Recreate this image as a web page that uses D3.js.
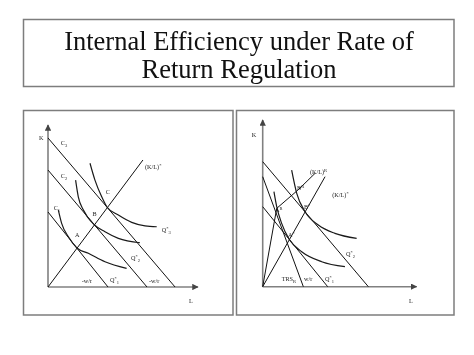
<!DOCTYPE html>
<meta charset="utf-8">
<style>
body { margin: 0; background: #fff; }
svg { display: block; font-family: "Liberation Serif", "DejaVu Serif", serif; will-change: transform; }
.frame { fill: none; stroke: #7d7d7d; stroke-width: 1.5px; }
.axis { stroke: #808080; stroke-width: 1.6px; }
.line { fill: none; stroke: #111; stroke-width: 1px; }
.iso { fill: none; stroke: #1a1a1a; stroke-width: 1.2px; }
.lbl { font-size: 6.2px; fill: #222; }
.title { font-size: 26.5px; fill: #111; }
</style>
<body><svg></svg></body>
<script src="https://d3js.org/d3.v7.min.js"></script>
<script>

var width = 474,
    height = 355;

var svg = d3.select("svg")
    .attr("width", width)
    .attr("height", height);

var titleLines = ["Internal Efficiency under Rate of", "Return Regulation"];

// left panel: cost lines (K intercept, L intercept), ray, isoquants
var leftCost = [
  { k: 9.2, l: 8.47 },
  { k: 7.22, l: 6.6 },
  { k: 4.63, l: 4.0 }
];
var leftRays = [
  [[0, 0], [6.33, 7.84]]
];
var leftIsoQ3 = [[2.8, 7.64], [3.13, 6.6], [3.58, 5.57], [3.93, 4.94], [4.69, 4.44], [5.58, 3.99], [6.47, 3.77], [7.25, 3.72]];
var leftIsoQ2 = [[1.84, 6.6], [2.02, 5.57], [2.36, 4.75], [3.1, 3.83], [3.8, 3.41], [4.69, 3.0], [6.13, 2.73]];
var leftIsoQ1 = [[0.69, 4.75], [0.91, 3.93], [1.36, 3.1], [1.93, 2.41], [2.69, 2.08], [3.8, 1.56], [5.24, 1.15]];
var leftLabels = [
  { t: "K", at: [-0.6, 9.18] },
  { t: "L", at: [9.4, -0.85] },
  { t: "C", sub: "3", at: [0.85, 8.87] },
  { t: "C", sub: "2", at: [0.85, 6.85] },
  { t: "C", sub: "1", at: [0.38, 4.86] },
  { t: "C", at: [3.85, 5.88] },
  { t: "B", at: [2.96, 4.5] },
  { t: "A", at: [1.8, 3.25] },
  { t: "(K/L)", sup: "*", at: [6.47, 7.43] },
  { t: "Q", sup: "*", sub: "3", at: [7.58, 3.52] },
  { t: "Q", sup: "*", sub: "2", at: [5.53, 1.82] },
  { t: "Q", sup: "*", sub: "1", at: [4.13, 0.43] },
  { t: "-w/r", at: [2.25, 0.37] },
  { t: "-w/r", at: [6.73, 0.37] }
];

// right panel
var rightCost = [
  { k: 7.5, l: 6.86 },
  { k: 6.6, l: 2.64 },
  { k: 4.8, l: 4.22 }
];
var rightRays = [
  [[0, 0], [4.05, 6.6]],
  [[0, 0], [0.91, 4.7], [2.29, 5.8], [3.4, 6.8]]
];
var rightIsoQ2 = [[1.88, 7.0], [2.21, 5.6], [2.75, 4.5], [3.61, 3.7], [4.69, 3.2], [6.1, 2.9]];
var rightIsoQ1 = [[0.73, 5.7], [0.91, 4.8], [1.23, 3.8], [1.73, 2.83], [2.53, 2.1], [3.83, 1.5], [5.34, 1.2]];
var rightLabels = [
  { t: "K", at: [-0.71, 9.1] },
  { t: "L", at: [9.5, -0.84] },
  { t: "(K/L)", sup: "R", at: [3.07, 6.9] },
  { t: "(K/L)", sup: "*", at: [4.52, 5.5] },
  { t: "B", sup: "R", at: [2.23, 5.96] },
  { t: "B", sup: "*", at: [2.68, 4.8] },
  { t: "A", sup: "R", at: [0.8, 4.64] },
  { t: "A", sup: "*", at: [1.64, 3.1] },
  { t: "Q", sup: "*", sub: "2", at: [5.41, 2.0] },
  { t: "Q", sup: "*", sub: "1", at: [4.05, 0.5] },
  { t: "TRS", sub: "R", at: [1.23, 0.5] },
  { t: "w/r", at: [2.68, 0.5] }
];

// arrow head for axes
svg.append("defs").append("marker")
    .attr("id", "arrow")
    .attr("viewBox", "0 0 10 10")
    .attr("refX", 9)
    .attr("refY", 5)
    .attr("markerWidth", 4)
    .attr("markerHeight", 4)
    .attr("orient", "auto")
  .append("path")
    .attr("d", "M0,0L10,5L0,10Z")
    .attr("fill", "#444");

// title
svg.append("rect")
    .attr("class", "frame")
    .attr("x", 23.5).attr("y", 19.5)
    .attr("width", 430.5).attr("height", 67);

svg.selectAll(".title")
    .data(titleLines)
    .enter().append("text")
    .attr("class", "title")
    .attr("x", 239)
    .attr("y", function(d, i) { return 50 + i * 27.5; })
    .attr("text-anchor", "middle")
    .text(function(d) { return d; });

function drawPanel(box, x, y, cost, rays, isos, labels) {
  var g = svg.append("g");

  g.append("rect")
      .attr("class", "frame")
      .attr("x", box[0]).attr("y", box[1])
      .attr("width", box[2]).attr("height", box[3]);

  // axes
  g.append("line").attr("class", "axis")
      .attr("x1", x(0)).attr("y1", y(0))
      .attr("x2", x(0)).attr("y2", y(10))
      .attr("marker-end", "url(#arrow)");
  g.append("line").attr("class", "axis")
      .attr("x1", x(0)).attr("y1", y(0))
      .attr("x2", x(10)).attr("y2", y(0))
      .attr("marker-end", "url(#arrow)");

  g.selectAll(".cost")
      .data(cost)
      .enter().append("line")
      .attr("class", "line")
      .attr("x1", x(0)).attr("y1", function(d) { return y(d.k); })
      .attr("x2", function(d) { return x(d.l); }).attr("y2", y(0));

  var straight = d3.line()
      .x(function(d) { return x(d[0]); })
      .y(function(d) { return y(d[1]); });

  g.selectAll(".ray")
      .data(rays)
      .enter().append("path")
      .attr("class", "line")
      .attr("d", straight);

  var curved = d3.line()
      .x(function(d) { return x(d[0]); })
      .y(function(d) { return y(d[1]); })
      .curve(d3.curveMonotoneX);

  g.selectAll(".iso")
      .data(isos)
      .enter().append("path")
      .attr("class", "iso")
      .attr("d", curved);

  var text = g.selectAll(".lbl")
      .data(labels)
      .enter().append("text")
      .attr("class", "lbl")
      .attr("x", function(d) { return x(d.at[0]); })
      .attr("y", function(d) { return y(d.at[1]); })
      .attr("dy", "0.35em");

  text.append("tspan").text(function(d) { return d.t; });
  text.filter(function(d) { return d.sup; })
    .append("tspan")
      .attr("font-size", "4.5px")
      .attr("dy", "-2")
      .text(function(d) { return d.sup; });
  text.filter(function(d) { return d.sub; })
    .append("tspan")
      .attr("font-size", "4.5px")
      .attr("dy", function(d) { return d.sup ? "4" : "2"; })
      .text(function(d) { return d.sub; });
}

var xLeft = d3.scaleLinear().domain([0, 10]).range([48, 198]),
    yLeft = d3.scaleLinear().domain([0, 10]).range([287, 125]);

drawPanel([23.5, 110.5, 209.5, 204.5], xLeft, yLeft, leftCost, leftRays,
  [leftIsoQ3, leftIsoQ2, leftIsoQ1], leftLabels);

var xRight = d3.scaleLinear().domain([0, 10]).range([262.7, 416.7]),
    yRight = d3.scaleLinear().domain([0, 10]).range([286.7, 120]);

drawPanel([236.5, 110.5, 217.5, 204.5], xRight, yRight, rightCost, rightRays,
  [rightIsoQ2, rightIsoQ1], rightLabels);

</script>
